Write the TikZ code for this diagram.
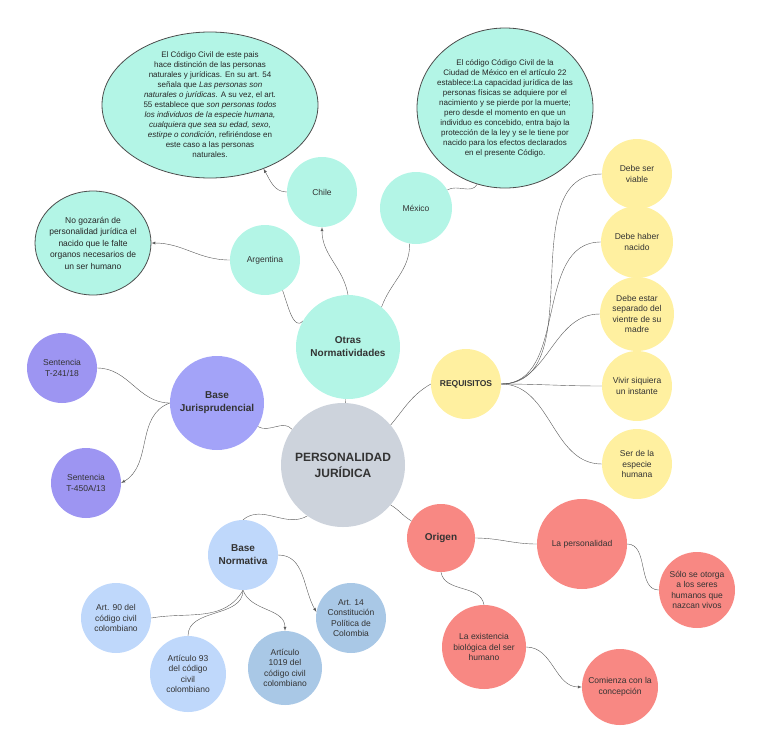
\documentclass[tikz,border=0pt]{standalone}
\usepackage{fontspec}
\setmainfont{Liberation Sans}
\usetikzlibrary{shapes.geometric}
\definecolor{teal}{HTML}{B3F5E6}
\definecolor{gr}{HTML}{CDD3DC}
\definecolor{pur}{HTML}{A3A3F8}
\definecolor{pur2}{HTML}{9D95F2}
\definecolor{yel}{HTML}{FFF0A0}
\definecolor{red}{HTML}{F88883}
\definecolor{lb}{HTML}{BFD8FB}
\definecolor{lb2}{HTML}{A9C8E6}
\tikzset{
 bub/.style={circle,inner sep=0pt,align=center,font=\fontsize{8.5}{10.5}\selectfont,text=black!80},
 big/.style={bub,font=\bfseries\fontsize{10}{13}\selectfont},
 el/.style={ellipse,draw=black!70,thick,fill=teal,inner sep=0pt},
 eltx/.style={align=center,inner sep=0pt,font=\fontsize{8}{10}\selectfont,text=black!85},
 ln/.style={draw=black!65,thin},
 ar/.style={ln,-latex}
}
\begin{document}
\begin{tikzpicture}[x=1pt,y=-1pt]
\useasboundingbox (0,0) rectangle (768,753);
\node[bub,fill=gr,minimum size=124,font=\bfseries\fontsize{12}{16}\selectfont] (pj) at (343,465) {PERSONALIDAD\\JURÍDICA};
\node[big,fill=teal,minimum size=104] (on) at (348,347) {Otras\\Normatividades};
\node[bub,fill=teal,minimum size=70] (arg) at (265,260) {Argentina};
\node[bub,fill=teal,minimum size=70] (chi) at (322,192) {Chile};
\node[bub,fill=teal,minimum size=72] (mex) at (416,208) {México};
\node[el,minimum width=216,minimum height=146] (chit) at (210,105) {};
\node[eltx] (chitx) at (chit.center) {El Código Civil de este pais\\hace distinción de las personas\\naturales y jurídicas. En su art. 54\\señala que \textit{Las personas son}\\\textit{naturales o jurídicas}. A su vez, el art.\\55 establece que \textit{son personas todos}\\\textit{los individuos de la especie humana,}\\\textit{cualquiera que sea su edad, sexo,}\\\textit{estirpe o condición}, refiriéndose en\\este caso a las personas\\naturales.};
\node[el,minimum width=176,minimum height=160] (mext) at (505,108) {};
\node[eltx] (mextx) at (mext.center) {El código Código Civil de la\\Ciudad de México en el artículo 22\\establece:La capacidad jurídica de las\\personas físicas se adquiere por el\\nacimiento y se pierde por la muerte;\\pero desde el momento en que un\\individuo es concebido, entra bajo la\\protección de la ley y se le tiene por\\nacido para los efectos declarados\\en el presente Código.};
\node[el,minimum width=116,minimum height=104] (argt) at (93,243) {};
\node[eltx,font=\fontsize{8.5}{11.5}\selectfont] (argtx) at (argt.center) {No gozarán de\\personalidad jurídica el\\nacido que le falte\\organos necesarios de\\un ser humano};
\node[big,fill=pur,minimum size=94] (bj) at (217,403) {Base\\Jurisprudencial};
\node[bub,fill=pur2,minimum size=70] (s1) at (62,368) {Sentencia\\T-241/18};
\node[bub,fill=pur2,minimum size=70] (s2) at (86,483) {Sentencia\\T-450A/13};
\node[big,fill=yel,minimum size=70,font=\bfseries\fontsize{8.5}{10}\selectfont] (req) at (466,384) {REQUISITOS};
\node[bub,fill=yel,minimum size=70] (r1) at (637,174) {Debe ser\\viable};
\node[bub,fill=yel,minimum size=72] (r2) at (637,242) {Debe haber\\nacido};
\node[bub,fill=yel,minimum size=74] (r3) at (637,314) {Debe estar\\separado del\\vientre de su\\madre};
\node[bub,fill=yel,minimum size=70] (r4) at (637,386) {Vivir siquiera\\un instante};
\node[bub,fill=yel,minimum size=70] (r5) at (637,464) {Ser de la\\especie\\humana};
\node[big,fill=red,minimum size=68] (ori) at (441,538) {Origen};
\node[bub,fill=red,minimum size=90] (lp) at (582,544) {La personalidad};
\node[bub,fill=red,minimum size=76] (so) at (697,590) {Sólo se otorga\\a los seres\\humanos que\\nazcan vivos};
\node[bub,fill=red,minimum size=84] (le) at (484,647) {La existencia\\biológica del ser\\humano};
\node[bub,fill=red,minimum size=76] (co) at (620,687) {Comienza con la\\concepción};
\node[big,fill=lb,minimum size=70] (bn) at (243,555) {Base\\Normativa};
\node[bub,fill=lb,minimum size=70] (a90) at (116,618) {Art. 90 del\\código civil\\colombiano};
\node[bub,fill=lb,minimum size=76] (a93) at (188,674) {Artículo 93\\del código\\civil\\colombiano};
\node[bub,fill=lb2,minimum size=74] (a1019) at (285,668) {Artículo\\1019 del\\código civil\\colombiano};
\node[bub,fill=lb2,minimum size=70] (a14) at (351,618) {Art. 14\\Constitución\\Política de\\Colombia};
% connectors
\draw[ln] (pj) -- (on);
\draw[ln] (on.150) to[out=230,in=-70] (arg.-60);
\draw[ar] (on.north) to[out=100,in=-90] (chi.south);
\draw[ln] (on.50) to[out=70,in=-90] (mex.-100);
\draw[ar] (chi.west) to[out=180,in=-60] (chit.-50);
\draw[ln] (mex.30) to[out=30,in=-120] (mext.-110);
\draw[ar] (arg.west) to[out=180,in=0] (argt.east);
\draw[ln] (pj.145) to[out=130,in=-30] (bj.-30);
\draw[ln] (bj.west) to[out=180,in=0] (s1.east);
\draw[ar] (bj.west) to[out=200,in=30] (s2.east);
\draw[ln] (pj.40) to[out=50,in=210] (req.west);
\foreach \r in {r1,r2,r3,r4,r5} \draw[ln] (req.east) to[out=0,in=180] (\r.west);
\draw[ln] (pj.-40) to[out=-30,in=150] (ori.150);
\draw[ln] (ori.east) to[out=0,in=180] (lp.west);
\draw[ln] (lp.east) to[out=0,in=180] (so.west);
\draw[ln] (ori.south) to[out=-80,in=100] (le.north);
\draw[ar] (le.east) to[out=0,in=180] (co.west);
\draw[ln] (pj.-125) to[out=-150,in=40] (bn.north);
\draw[ln] (bn.south) to[out=-120,in=10] (a90.east);
\draw[ln] (bn.south) to[out=-90,in=90] (a93.north);
\draw[ar] (bn.south) to[out=-70,in=90] (a1019.north);
\draw[ar] (bn.east) to[out=0,in=120] (a14.170);
\end{tikzpicture}
\end{document}
